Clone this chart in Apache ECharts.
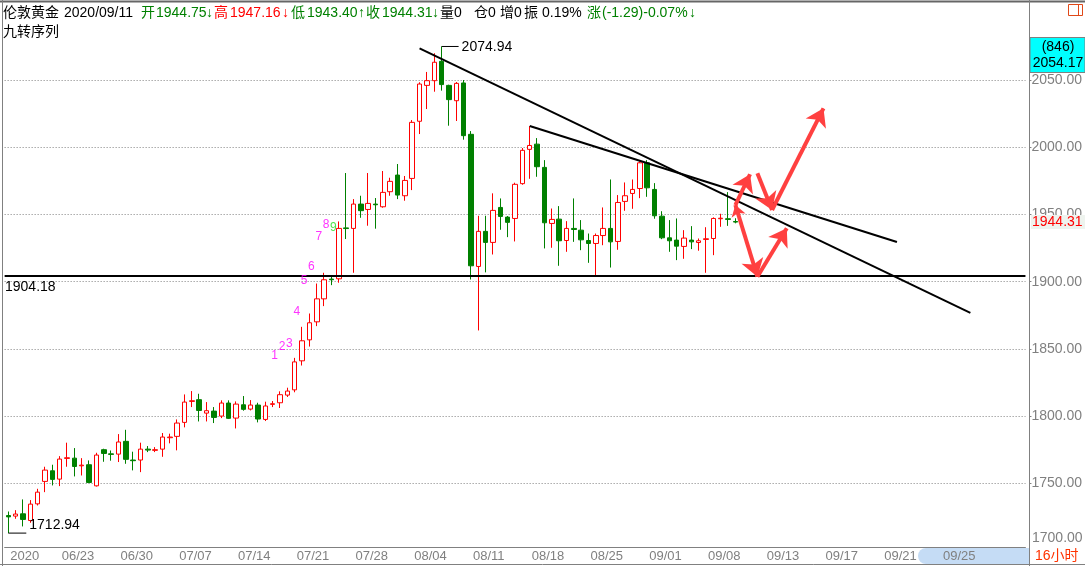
<!DOCTYPE html>
<html><head><meta charset="utf-8">
<script src="https://cdn.jsdelivr.net/npm/echarts@6/dist/echarts.min.js"></script>
<style>html,body{margin:0;padding:0;background:#fff}#c{width:1085px;height:566px}</style>
</head><body><div id="c"></div>
<script>
// ---- data ----
const opens = [
1726,1725.6,1727.3,1722.3,1734.7,1751.4,1759.3,1753.1,1768.5,1768.7,
1763,1763.8,1748.1,1775,1771.9,1771.7,1781.2,1767.3,1767.3,1775.4,
1774.5,1775.4,1783.9,1784.9,1795.3,1810.9,1812.2,1802.2,1803.7,1800,
1809.7,1798.5,1808.4,1805.2,1808.2,1797.5,1808.7,1809.9,1815.6,1819.5,
1841.1,1856.7,1870.1,1887.2,1901.9,1902.1,1940,1939.6,1957.7,1953.7,
1957.7,1955.7,1966.9,1979.3,1963.9,1976.8,2019.3,2046,2049.5,2063.9,
2046,2034.6,2047.8,2009.6,1911.3,1937.4,1929.2,1955.2,1948,1947,
1972.9,1998.4,2002.3,1985,1943.3,1946.5,1930.6,1939.6,1938.3,1930.6,
1928.4,1934.3,1939.6,1929.9,1959.7,1965.6,1969.3,1988.4,1968.6,1948.7,
1932.6,1930.9,1926.2,1930.9,1929.1,1931.4,1932.1,1946.8,1946.8,1944.75];
const closes = [
1725,1727.1,1723.1,1734.5,1743.4,1759.8,1752.9,1768,1769,1762.5,
1763.5,1750.6,1771,1772.2,1771.5,1780.7,1767.8,1766.8,1775.4,1774.7,
1775,1784.4,1784.4,1794.8,1810.4,1811.4,1804.2,1804,1799,1809.7,
1798.3,1808.9,1805,1808.2,1797.8,1807.5,1809.2,1815.9,1818.6,1840.3,
1856,1869.4,1887.2,1901.4,1901.4,1939.6,1939.5,1957.7,1952.8,1958.2,
1957.2,1966.4,1974.6,1964.4,1975.3,2018.5,2047,2049.5,2063.2,2046.6,
2035.4,2047.5,2008.6,1911.8,1937.4,1929.2,1953,1948.5,1944.1,1972.4,
1997.7,2001.3,1985.5,1943.8,1946.3,1930.4,1939.6,1938.8,1931.1,1928.4,
1934.3,1939.6,1929.6,1958.9,1963.9,1968.6,1988.4,1969.8,1949,1932.6,
1930.4,1926.4,1932.4,1929.6,1930.4,1931.9,1947,1947.2,1946.3,1944.31];
const lows = [
1712.94,1723.6,1717.9,1720.6,1733.5,1743.4,1748.4,1747.9,1762.3,1755.1,
1755.8,1750.1,1747.6,1766,1766.8,1765.8,1764.5,1759.6,1758.3,1773.2,
1773.2,1769.7,1779.7,1774.5,1791.6,1806.7,1796,1796,1794.8,1798.5,
1797.8,1790.8,1804,1804.2,1795.3,1796.3,1806.7,1806,1814.2,1817.7,
1837.6,1851.7,1866.9,1881.8,1897.4,1899.2,1931.7,1906.6,1947.5,1941.6,
1939.4,1955,1963.9,1961.4,1960.2,1968.1,2009.8,2028.4,2041.3,2042.1,
2016,2019.5,2005.6,1901.6,1863.7,1906.9,1920.2,1938.6,1933.1,1929.9,
1972.1,1976.5,1978,1924.7,1925.2,1911.8,1922.2,1929.6,1923.4,1914,
1903.6,1927.1,1910.5,1923.7,1952.7,1954.2,1962.1,1963.1,1946.8,1931.6,
1922.2,1916,1917,1924.2,1923,1906.6,1919.7,1940.8,1941.5,1943.40];
const highs = [
1729,1730,1738,1737.5,1745.9,1762.3,1763.8,1770.2,1780.2,1776.2,
1768.7,1767,1772.7,1775.7,1774.4,1786.6,1789.8,1773.5,1780.2,1777.7,
1776.9,1787.4,1786.9,1797.5,1816.1,1818.6,1816.6,1810.4,1806.7,1811.7,
1811.7,1810.9,1814.9,1811.9,1809.9,1810.7,1811.2,1818.4,1821.1,1843.3,
1866.4,1876.3,1898.6,1906.6,1904.1,1944.8,1980.8,1961.4,1963.9,1980.8,
1962.2,1982.3,1977.3,1987.5,1978.6,2020.2,2048.3,2056,2069.9,2074.94,
2046.5,2048.5,2050,2012,1949,1949,1965.7,1961.9,1948.8,1973.6,
1999.4,2015.7,2006.8,1990.4,1954.4,1956.2,1945,1961.9,1945.8,1935.8,
1935.8,1955.2,1976,1964.4,1973.8,1976,1989.4,1990.4,1973.3,1952.4,
1945.8,1947,1938.3,1941.3,1932.1,1940.5,1947.8,1950.5,1966.6,1947.16];

const slotCount = 139;                       // bar slots on the time axis (incl. empty future)
const tickIdx  = [0,7,15,23,31,39,47,55,63,71,79,87,95,103,111,119,127];
const tickText = ['2020','06/23','06/30','07/07','07/14','07/21','07/28','08/04','08/11','08/18','08/25','09/01','09/08','09/13','09/17','09/21','09/25'];
const minorTickIdx = [5,13,21,29,37,45,53,61,69,77,85,93,101,109,117,125,133];
const yTickValues = [1750,1800,1850,1900,1950,2000,2050];
const yTickText = ['1750.00','1800.00','1850.00','1900.00','1950.00','2000.00','2050.00'];

const supportLevel = 1904.18;
const trendLine1 = [[55.92,2073.6],[130.95,1876.7]];
const trendLine2 = [[71.04,2015.8],[121.0,1929.5]];
const arrowPaths = [
  [[99.40,1957.0],[101.44,1979.9]],
  [[101.9,1980.6],[103.72,1953.3]],
  [[103.72,1953.3],[110.53,2028.9]],
  [[101.77,1903.7],[105.53,1939.7]]
];
const doubleArrow = [[98.95,1957.0],[101.77,1903.7]];

const tdText  = ['1','2','3','4','5','6','7','8','9'];
const tdIdx   = [36,37,38,39,40,41,42,43,44];
const tdPrice = [1844.7,1851.6,1853.6,1877.7,1900.7,1911.1,1933.2,1942.1,1939.9];

const highIdx = 59, highVal = 2074.94;
const lowIdx = 0, lowVal = 1712.94;
const lastClose = 1944.31;

const headerParts = [
  ['伦敦黄金','k'],['2020/09/11','k'],
  ['开','g'],['1944.75','g'],['↓','g'],
  ['高','r'],['1947.16','r'],['↓','r'],
  ['低','g'],['1943.40','g'],['↑','g'],
  ['收','g'],['1944.31','g'],['↓','g'],
  ['量0','k'],['仓0','k'],['增0','k'],['振','k'],['0.19%','k'],
  ['涨','g'],['(-1.29)-0.07%','g'],['↓','g']
];
const headerX = [3,64,141,156,206,214,230,282,291,307,358,366,382,432,440,474,500,524,542,587,602,689];
const cursorCount = '(846)', cursorPrice = '2054.17';
const periodText = '16小时';
const indicatorName = '九转序列';

// ---- chart ----
const FONT = '"Liberation Sans", Arial, "Noto Sans CJK SC", sans-serif';
const GREEN = '#008000', RED = '#ff0000', GRAY = '#808080';
const chart = echarts.init(document.getElementById('c'), null, {renderer: 'canvas'});
const slots = Array.from({length: slotCount}, (_, i) => String(i));
const candleData = opens.map((o, i) => [o, closes[i], lows[i], highs[i]]);
const labelMap = {}; tickIdx.forEach((k, j) => labelMap[k] = tickText[j]);
const tickSet = new Set(tickIdx.concat(minorTickIdx));

chart.setOption({
  animation: false,
  backgroundColor: '#ffffff',
  grid: {left: 4.63, right: 59.55, top: 5, bottom: 19, outerBoundsMode: 'none', containLabel: false},
  xAxis: {
    type: 'category', data: slots, boundaryGap: true, z: 3,
    axisLine: {lineStyle: {color: GRAY, width: 1}},
    axisTick: {alignWithLabel: true, interval: (i) => tickSet.has(i), length: 3, lineStyle: {color: GRAY}},
    axisLabel: {interval: (i) => labelMap[i] !== undefined, formatter: (v, i) => labelMap[i] || '',
      align: 'left', color: GRAY, fontSize: 13, fontFamily: FONT, margin: 3, padding: [0, 0, 0, 2]},
    splitLine: {show: false}
  },
  yAxis: {
    type: 'value', position: 'right', offset: 4, min: 1702.6, max: 2105.8,
    axisLine: {show: true, lineStyle: {color: GRAY}},
    axisTick: {show: true, customValues: yTickValues, length: 2, lineStyle: {color: GRAY}},
    axisLabel: {customValues: yTickValues, formatter: (v) => yTickText[yTickValues.indexOf(v)] || v.toFixed(2),
      color: GRAY, fontSize: 14, fontFamily: FONT, margin: 2},
    splitLine: {show: true, lineStyle: {color: GRAY, type: [1, 2], width: 1}}
  },
  series: [
    {
      type: 'candlestick', data: candleData, barWidth: 5, z: 3,
      itemStyle: {color: '#ffffff', color0: GREEN, borderColor: RED, borderColor0: GREEN, borderWidth: 1},
      markLine: {silent: true, symbol: 'none', animation: false,
        lineStyle: {color: '#000', width: 2, type: 'solid'}, label: {show: false},
        data: [{yAxis: supportLevel}]}
    },
    {
      type: 'lines', coordinateSystem: 'cartesian2d', z: 4, silent: true,
      symbol: 'none', lineStyle: {color: '#000', width: 2, opacity: 1},
      data: [{coords: trendLine1}, {coords: trendLine2}]
    },
    {
      type: 'lines', coordinateSystem: 'cartesian2d', z: 5, silent: true,
      symbol: ['none', 'arrow'], symbolSize: 17,
      lineStyle: {color: '#ff4040', width: 4, opacity: 1},
      data: arrowPaths.map(c => ({coords: c}))
    },
    {
      type: 'lines', coordinateSystem: 'cartesian2d', z: 5, silent: true,
      symbol: ['arrow', 'arrow'], symbolSize: [11, 17],
      lineStyle: {color: '#ff4040', width: 4, opacity: 1},
      data: [{coords: doubleArrow}]
    },
    {
      type: 'scatter', z: 6, silent: true, symbolSize: 2,
      itemStyle: {color: 'rgba(255,255,255,0)'},
      data: tdIdx.map((x, i) => ({value: [x, tdPrice[i], tdText[i]],
        label: {color: i === 8 ? '#22dd22' : '#ff00ff'}})),
      label: {show: true, position: 'inside', offset: [2, 0], fontSize: 12, fontFamily: FONT,
        formatter: (p) => p.data.value[2]}
    }
  ]
});

// ---- annotations placed through the chart's own scales ----
const px = (i, v) => chart.convertToPixel({gridIndex: 0}, [i, v]);
const colorOf = {k: '#000000', g: GREEN, r: RED};
const G = [];
const txt = (x, y, s, color, opt) => G.push(Object.assign({type: 'text', x: x, y: y, z: 20,
  style: Object.assign({text: s, fill: color, font: '14px ' + FONT, textAlign: 'left', textVerticalAlign: 'middle'}, opt || {})}));
const line = (x1, y1, x2, y2, color, w) => G.push({type: 'line', z: 19, silent: true,
  shape: {x1: x1, y1: y1, x2: x2, y2: y2}, style: {stroke: color, lineWidth: w || 1}});

// frame
line(0, 1.5, 1085, 1.5, '#666666', 2);
line(2.5, 0, 2.5, 566, GRAY, 1);
line(0, 564.5, 1085, 564.5, GRAY, 1);
line(1029.5, 0, 1029.5, 566, GRAY, 1);
// future-zone highlight on time axis
G.push({type: 'rect', z: 1, shape: {x: 918, y: 548, width: 111, height: 16, r: [8, 0, 0, 8]}, style: {fill: '#c5dcf5'}});
// header
headerParts.forEach((p, i) => txt(headerX[i], 13, p[0], colorOf[p[1]]));
txt(3, 32, indicatorName, '#000');
// right panel
G.push({type: 'rect', z: 18, shape: {x: 1030, y: 37.5, width: 55, height: 35}, style: {fill: '#00ffff', stroke: GRAY, lineWidth: 1}});
txt(1058, 47, cursorCount, '#000', {textAlign: 'center'});
txt(1058, 63, cursorPrice, '#000', {textAlign: 'center'});
G.push({type: 'rect', z: 18, shape: {x: 1068.5, y: 4.5, width: 14, height: 11}, style: {fill: 'none', stroke: '#e04818', lineWidth: 1}});
line(1078.5, 4.5, 1078.5, 15.5, '#e04818', 1);
txt(1035, 556, periodText, '#ff3300');
txt(1032, 538, '1700.00', GRAY);
// last close label
const pc = px(99, lastClose);
G.push({type: 'rect', z: 20, shape: {x: 1031, y: pc[1] - 7, width: 54, height: 14}, style: {fill: '#eef3ee'}});
txt(1032, pc[1], lastClose.toFixed(2), RED, {z2: 5});
// support label
const ps = px(0, supportLevel);
txt(5, ps[1] + 11, supportLevel.toFixed(2), '#000');
// high label
const ph = px(highIdx, highVal);
line(ph[0], ph[1], ph[0] + 17, ph[1], '#000', 1);
txt(ph[0] + 20, ph[1] + 1, highVal.toFixed(2), '#000');
// low label
const pl = px(lowIdx, lowVal);
line(pl[0], pl[1], pl[0] + 18, pl[1], '#000', 1);
txt(pl[0] + 21, pl[1] - 8, lowVal.toFixed(2), '#000');

chart.setOption({graphic: {elements: G}});
</script></body></html>
